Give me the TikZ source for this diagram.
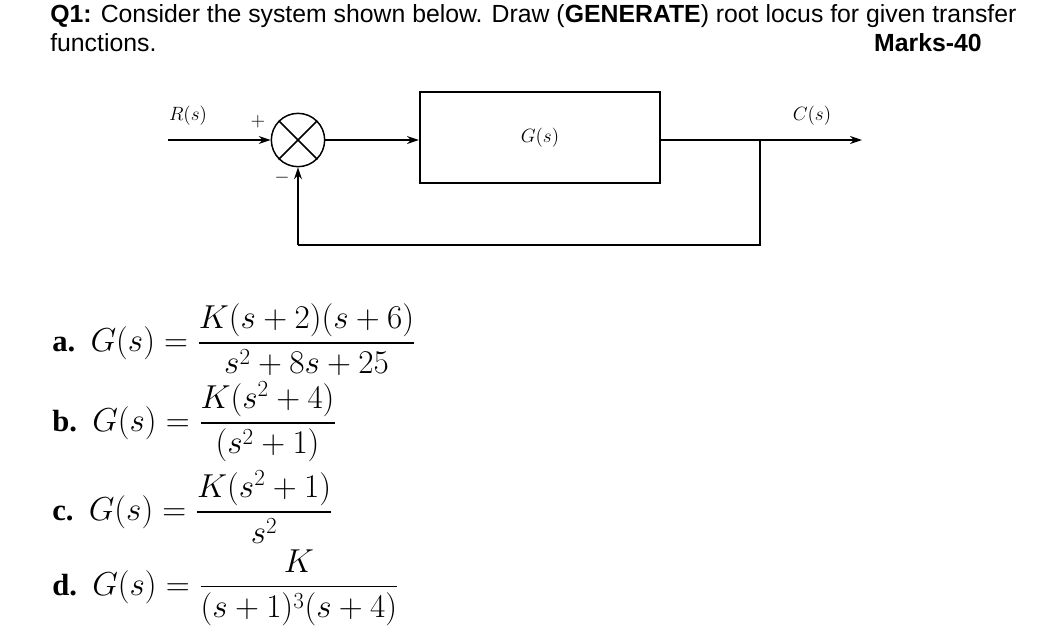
\documentclass[tikz,border=0pt]{standalone}
\usepackage{amsmath}
\usepackage{fontspec}
\setmainfont{Liberation Serif}
\newfontfamily\arialf{Liberation Sans}
\usetikzlibrary{arrows.meta}
\begin{document}
\begin{tikzpicture}[x=0.75pt,y=-0.75pt,
  hdr/.style={font=\arialf\fontsize{18.6}{22}\selectfont,inner sep=0pt},
  lbl/.style={font=\fontsize{15}{17}\selectfont,inner sep=0pt},
  eq/.style={font=\fontsize{23}{27}\selectfont,inner sep=0pt,anchor=west},
  wire/.style={line width=1.1pt},
  arr/.style={wire,-{Stealth[length=9pt,width=6pt]}}]
\useasboundingbox (0,0) rectangle (1057,640);
\node[hdr,anchor=base west] (q1) at (50,22) {\textbf{Q1:} Consider the system shown below. Draw (\textbf{GENERATE}) root locus for given transfer};
\node[hdr,anchor=base west] (fn) at (50,51) {functions.};
\node[hdr,anchor=base east] (mk) at (982,51) {\textbf{Marks-40}};
% block diagram
\coordinate (in) at (168,140);
\node[draw,circle,line width=1.1pt,minimum size=40pt,inner sep=0pt] (sum) at (298,140) {};
\draw[line width=1.1pt] (sum.north west) -- (sum.south east) (sum.north east) -- (sum.south west);
\node[draw,line width=1.6pt,minimum width=180pt,minimum height=68pt,lbl] (G) at (540,137.5) {$G(s)$};
\coordinate (br) at (760,140);
\coordinate (out) at (862,140);
\coordinate (fb1) at (760,245);
\coordinate (fb2) at (298,245);
\draw[arr] (in) -- (sum.west);
\draw[arr] (sum.east) -- (G.west |- sum.east);
\draw[wire] (G.east |- br) -- (br);
\draw[arr] (br) -- (out);
\draw[wire] (br) -- (fb1) -- (fb2);
\draw[arr] (fb2) -- (sum.south);
\node[lbl] (R) at (188,116) {$R(s)$};
\node[lbl] (C) at (812,116) {$C(s)$};
\node[lbl] (pl) at (258,122) {$+$};
\node[lbl] (mi) at (282,178) {$-$};
% equations
\node[eq] (a) at (52,340) {\textbf{a.}\ \ $G(s)=\dfrac{K(s+2)(s+6)}{s^2+8s+25}$};
\node[eq] (b) at (52,422) {\textbf{b.}\ \ $G(s)=\dfrac{K(s^2+4)}{(s^2+1)}$};
\node[eq] (c) at (52,507) {\textbf{c.}\ \ $G(s)=\dfrac{K(s^2+1)}{s^2}$};
\node[eq] (d) at (52,588) {\textbf{d.}\ \ $G(s)=\dfrac{K}{(s+1)^3(s+4)}$};
\end{tikzpicture}
\end{document}
